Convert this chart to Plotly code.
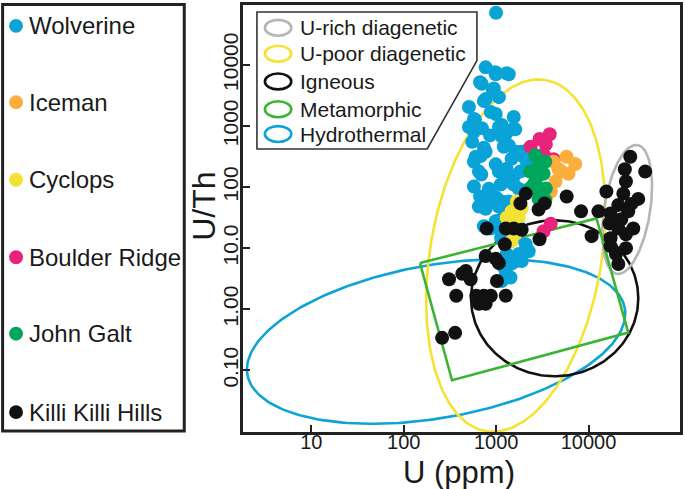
import numpy as np
import plotly.graph_objects as go

# ---------------- data ----------------
wolverine_u = [997, 770, 990, 1370, 670, 920, 737, 875, 590, 990, 1510, 1150, 550, 1270, 770, 1370, 1890, 690,
               990, 1470, 2090, 834, 1270, 770, 1150, 1754, 2250, 575, 1070, 1986, 651, 1070, 2150, 651, 1070,
               1754, 737, 1210, 990, 875, 1150, 1640, 2090, 1754, 1470, 1270, 1150, 1890, 2250, 508, 670, 600,
               1550, 1210, 944, 1550, 575, 1370, 1754, 508, 1070, 575,
               1150, 737, 1650, 680, 2160, 1300, 1820, 1120, 1550, 790, 1010, 1010, 1130, 1430, 1300, 1650, 1210,
               1430, 980, 1300, 700, 944, 770, 575, 700, 1610, 860]
wolverine_uth = [71400, 9100, 7020, 7020, 5190, 3850, 2560, 1690, 1270, 1570, 880, 1040, 549, 730, 378, 480, 378,
                 160, 235, 290, 200, 94, 123, 44, 58, 94, 420, 800, 964, 313, 179, 179, 84.5, 48, 48, 40, 22.8,
                 33, 27.5, 21, 17, 15, 11.6, 8.0, 5.6, 4.2, 2.9, 6.15, 8.9, 964, 70, 313,
                 1400, 456, 70, 148, 102, 58, 22.8, 2040, 2960, 260,
                 670, 440, 378, 322, 260, 200, 179, 110, 110, 58, 66, 27.5, 14.7, 13, 8.0, 6.15, 4.9,
                 3.3, 7550, 7270, 4890, 4100, 2750, 1300, 920, 880, 700]

iceman_u = [5780, 7180, 5100, 4390, 3900, 6070, 4730, 3500, 4190]
iceman_uth = [313, 238, 179, 123, 84.5, 165, 195, 70, 260]

cyclops_u = [1470, 1754, 1370, 1640, 1470, 1680, 1890, 1300, 1550]
cyclops_uth = [40, 31.5, 27.5, 17.4, 13, 58, 45, 31.5, 21]

boulder_u = [3800, 2950, 2360, 3450, 4190, 3260, 3900, 3260]
boulder_uth = [730, 610, 456, 500, 285, 345, 25, 18.9]

galt_u = [2650, 3400, 2320, 3260, 2545, 3450, 2950, 2880, 2320, 3400, 2880, 2700]
galt_uth = [330, 260, 179, 165, 111, 95, 77, 64, 95, 61, 215, 133]

killi_u = [28300, 41000, 24700, 25400, 15600, 23800, 34500, 29000, 21000, 8300, 12800, 17300, 26900, 22600,
           16800, 30500, 21000, 10800, 17300, 25400, 17300, 25400, 19800, 21000,
           2090, 1830, 2880, 3350, 5800, 790, 1270, 1550, 1890, 2950, 1240, 770, 990, 1070, 470, 430, 530, 309,
           1020, 370, 610, 737, 875, 1270, 651, 770, 360, 260]
killi_uth = [313, 179, 195, 123, 84.5, 78, 64, 53, 51, 40, 40, 37, 40, 29.6, 25.4, 21, 21, 15.7, 14.5, 16.9,
             10.8, 10, 8, 5.5,
             78, 54, 43, 54, 70, 21, 21, 21, 20, 14, 11.6, 7.4, 6.7, 5.7, 4.23, 3.8, 3.1, 3.1, 2.9, 1.66, 1.66,
             1.66, 1.66, 1.66, 1.23, 1.23, 0.41, 0.34]

series_names = ["Wolverine", "Iceman", "Cyclops", "Boulder Ridge", "John Galt", "Killi Killi Hills"]
series_colors = ["#0AA3D8", "#FBAE3C", "#F3E233", "#E8237B", "#00A65A", "#111111"]

# genetic fields: centre (U ppm, U/Th), semi-axes (px), rotation (deg)
field_names = ["U-rich diagenetic", "U-poor diagenetic", "Igneous", "Metamorphic", "Hydrothermal"]
field_colors = ["#B5B5B5", "#F7E234", "#111111", "#3BB531", "#0EA3D6"]
urich_center = [26200, 43]
urich_axes = [65.7, 23.1, 81]
upoor_center = [1630, 7.55]
upoor_axes = [179.4, 86.1, 80.4]
igneous_center = [4300, 1.51]
igneous_axes = [84, 78.5, 0]
hydro_center = [224, 0.296]
hydro_axes = [192.5, 77, 10]
metamorphic_u = [150, 12200, 26900, 333, 150]
metamorphic_uth = [5.7, 30.7, 0.415, 0.0688, 5.7]

x_tickvals = [10, 100, 1000, 10000]
x_ticktext = ["10", "100", "1000", "10000"]
y_tickvals = [0.1, 1, 10, 100, 1000, 10000]
y_ticktext = ["0.10", "1.00", "10.0", "100", "1000", "10000"]

# ---------------- layout geometry ----------------
W, H = 685, 489
ML, MR, MT, MB = 243, 3, 2, 57
PW = W - ML - MR
PH = H - MT - MB
XR = [0.26, 4.99]
YR = [-2.01, 4.98]
KX = PW / (XR[1] - XR[0])
KY = PH / (YR[1] - YR[0])


def px(x):
    return (x - ML) / PW


def py(y):
    return (H - MB - y) / PH


def ellipse(center, axes, n=240):
    a, b, ang = axes
    t = np.linspace(0, 2 * np.pi, n)
    th = np.radians(ang)
    dx = a * np.cos(t) * np.cos(th) - b * np.sin(t) * np.sin(th)
    dy = a * np.cos(t) * np.sin(th) + b * np.sin(t) * np.cos(th)
    return 10 ** (np.log10(center[0]) + dx / KX), 10 ** (np.log10(center[1]) + dy / KY)


fig = go.Figure()

# field outlines
for center, axes, col in [(hydro_center, hydro_axes, field_colors[4]),
                          (upoor_center, upoor_axes, field_colors[1]),
                          (igneous_center, igneous_axes, field_colors[2]),
                          (urich_center, urich_axes, field_colors[0])]:
    ex, ey = ellipse(center, axes)
    fig.add_trace(go.Scatter(x=ex, y=ey, mode="lines", line=dict(color=col, width=2.6),
                             hoverinfo="skip", showlegend=False))
fig.add_trace(go.Scatter(x=metamorphic_u, y=metamorphic_uth, mode="lines",
                         line=dict(color=field_colors[3], width=2.6), hoverinfo="skip", showlegend=False))

# data points
data = [(wolverine_u, wolverine_uth, 0), (boulder_u, boulder_uth, 3), (iceman_u, iceman_uth, 1),
        (galt_u, galt_uth, 4), (cyclops_u, cyclops_uth, 2), (killi_u, killi_uth, 5)]
for xs, ys, i in data:
    fig.add_trace(go.Scatter(x=xs, y=ys, mode="markers", name=series_names[i],
                             marker=dict(size=14, color=series_colors[i], line=dict(width=0)),
                             showlegend=False))

FONT = "Liberation Sans, Arial, sans-serif"
shapes = []
annotations = []

# left legend panel
shapes.append(dict(type="rect", xref="paper", yref="paper", x0=px(1.5), x1=px(184), y0=py(1.5), y1=py(431),
                   line=dict(color="#222", width=3), fillcolor="rgba(0,0,0,0)", layer="above"))
legend_y = [23, 100, 178, 256, 333, 412]
for i, name in enumerate(series_names):
    cy = legend_y[i]
    shapes.append(dict(type="circle", xref="paper", yref="paper", x0=px(8), x1=px(22), y0=py(cy + 7),
                       y1=py(cy - 7), fillcolor=series_colors[i], line=dict(width=0), layer="above"))
    annotations.append(dict(text=name, x=px(26), y=py(cy), xref="paper", yref="paper", xanchor="left",
                            yanchor="middle", showarrow=False, font=dict(size=24, color="#1a1a1a", family=FONT)))

# inner legend callout
path = "M {},{} L {},{} L {},{} L {},{} L {},{} Z".format(px(257), py(9), px(478), py(9), px(478), py(58),
                                                        px(428), py(147), px(257), py(147))
shapes.append(dict(type="path", xref="paper", yref="paper", path=path, line=dict(color="#333", width=1.6),
                   fillcolor="white", layer="above"))
inner_y = [25, 51, 79, 107, 132]
for i, name in enumerate(field_names):
    cy = inner_y[i]
    shapes.append(dict(type="circle", xref="paper", yref="paper", x0=px(265), x1=px(291.5), y0=py(cy + 8),
                       y1=py(cy - 8), line=dict(color=field_colors[i], width=2.6), layer="above"))
    annotations.append(dict(text=name, x=px(298), y=py(cy), xref="paper", yref="paper", xanchor="left",
                            yanchor="middle", showarrow=False, font=dict(size=21, color="#1a1a1a", family=FONT)))

# axis titles
annotations.append(dict(text="U (ppm)", x=px(460), y=py(473), xref="paper", yref="paper", xanchor="center",
                        yanchor="middle", showarrow=False, font=dict(size=31, color="#1a1a1a", family=FONT)))
annotations.append(dict(text="U/Th", x=px(203), y=py(205), xref="paper", yref="paper", xanchor="center",
                        yanchor="middle", showarrow=False, textangle=-90,
                        font=dict(size=32, color="#1a1a1a", family=FONT)))

axis_common = dict(type="log", showline=True, linewidth=3, linecolor="#222", mirror=True, ticks="inside",
                   ticklen=7, tickwidth=2, tickcolor="#222", showgrid=False, zeroline=False)

fig.update_layout(
    width=W, height=H,
    margin=dict(l=ML, r=MR, t=MT, b=MB),
    paper_bgcolor="white", plot_bgcolor="white",
    xaxis=dict(range=XR, tickvals=x_tickvals, ticktext=x_ticktext, ticklabelstandoff=-10,
               tickfont=dict(size=20, color="#1a1a1a", family=FONT), **axis_common),
    yaxis=dict(range=YR, tickvals=y_tickvals, ticktext=y_ticktext, tickangle=-90, ticklabelstandoff=-6,
               tickfont=dict(size=21, color="#1a1a1a", family=FONT), **axis_common),
    shapes=shapes, annotations=annotations, showlegend=False,
)

fig.write_html("out.html", config={"displayModeBar": False},
               post_script="document.body.style.margin='0px';")
